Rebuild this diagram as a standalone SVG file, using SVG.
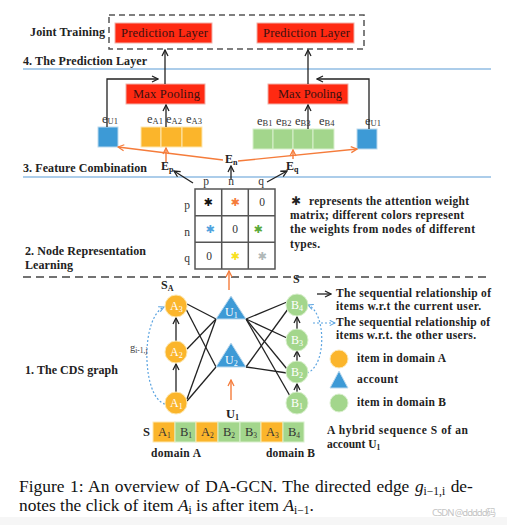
<svg xmlns="http://www.w3.org/2000/svg" width="507" height="525" viewBox="0 0 507 525">
<style>
text{font-family:"Liberation Serif","Times New Roman",serif;fill:#222}
.h{font-weight:bold;font-size:12px}
.lg{font-weight:bold;font-size:11.5px}
.bx{font-size:12.5px;fill:#3a1010}
.lab{font-size:12.5px;fill:#333}
.nd{font-size:12px;fill:#fff}
.cell{font-size:11.5px;fill:#333;text-anchor:middle}
.star{font-family:"DejaVu Sans",sans-serif;font-size:11px;text-anchor:middle}
.blk{stroke:#222;stroke-width:1.3;fill:none}
.org{stroke:#f57c3b;stroke-width:1.4;fill:none}
.dot{stroke:#5aa3e0;stroke-width:1.2;fill:none;stroke-dasharray:2,2}
.blue{stroke:#5b9bd5;stroke-width:1.2}
.red{fill:#ff2a12;stroke:#f2b0a8;stroke-width:1}
.oA{fill:#fbb52b;stroke:#fde7b0;stroke-width:1}
.gB{fill:#a3d68c;stroke:#d8efcc;stroke-width:1}
.bU{fill:#3d9ad6;stroke:#bcd9ee;stroke-width:1}
.cap{font-size:17.4px;fill:#111}
</style>
<defs>
<marker id="ab" viewBox="0 0 8 8" refX="7" refY="4" markerWidth="8" markerHeight="8" markerUnits="userSpaceOnUse" orient="auto"><path d="M1,1 L7,4 L1,7" fill="none" stroke="#222" stroke-width="1.3"/></marker>
<marker id="ao" viewBox="0 0 8 8" refX="7" refY="4" markerWidth="8" markerHeight="8" markerUnits="userSpaceOnUse" orient="auto"><path d="M1,1 L7,4 L1,7" fill="none" stroke="#f57c3b" stroke-width="1.3"/></marker>
<marker id="ad" viewBox="0 0 8 8" refX="7" refY="4" markerWidth="7" markerHeight="7" markerUnits="userSpaceOnUse" orient="auto"><path d="M1,1 L7,4 L1,7" fill="none" stroke="#5aa3e0" stroke-width="1.2"/></marker>
</defs>
<rect width="507" height="525" fill="#fff"/>
<rect x="0" y="517" width="507" height="8" fill="#f6f6f6"/>

<g id="separators">
<line class="blue" x1="23" y1="69" x2="491" y2="69"/>
<line class="blue" x1="23" y1="177" x2="491" y2="177"/>
<line x1="23" y1="277" x2="491" y2="277" stroke="#444" stroke-width="1.5" stroke-dasharray="8,5"/>
</g>

<g id="section-labels">
<text class="h" x="30" y="36" textLength="75">Joint Training</text>
<text class="h" x="23" y="65" textLength="124">4. The Prediction Layer</text>
<text class="h" x="23" y="172" textLength="124">3. Feature Combination</text>
<text class="h" x="25" y="255" textLength="121">2. Node Representation</text>
<text class="h" x="25" y="269" textLength="48">Learning</text>
<text class="h" x="25" y="374" textLength="93">1. The CDS graph</text>
</g>

<g id="joint-training">
<rect x="109" y="15" width="255" height="34" fill="none" stroke="#555" stroke-width="1.5" stroke-dasharray="6,4"/>
</g>
<g id="pred-left">
<rect class="red" x="115" y="23" width="97" height="20"/>
<text class="bx" x="121" y="37" textLength="87">Prediction   Layer</text>
</g>
<g id="pred-right">
<rect class="red" x="257" y="23" width="97" height="20"/>
<text class="bx" x="263" y="37" textLength="87">Prediction   Layer</text>
</g>

<g id="maxpool-left">
<rect class="red" x="126" y="84" width="79" height="20"/>
<text class="bx" x="133" y="98" textLength="67">Max  Pooling</text>
</g>
<g id="maxpool-right">
<rect class="red" x="268" y="84" width="80" height="20"/>
<text class="bx" x="278" y="98" textLength="64">Max Pooling</text>
</g>

<g id="eU1-left">
<rect class="bU" x="98" y="127" width="20" height="20"/>
<text class="lab" x="102" y="123">e<tspan font-size="8.5" dy="1">U1</tspan></text>
</g>
<g id="eA">
<rect class="oA" x="141" y="127" width="20" height="20"/>
<rect class="oA" x="161" y="127" width="21" height="20"/>
<rect class="oA" x="182" y="127" width="20" height="20"/>
<text class="lab" x="147" y="123">e<tspan font-size="8.5" dy="1">A1</tspan></text>
<text class="lab" x="166" y="123">e<tspan font-size="8.5" dy="1">A2</tspan></text>
<text class="lab" x="186" y="123">e<tspan font-size="8.5" dy="1">A3</tspan></text>
</g>
<g id="eB">
<rect class="gB" x="253" y="129" width="20" height="20"/>
<rect class="gB" x="273" y="129" width="20" height="20"/>
<rect class="gB" x="293" y="129" width="20" height="20"/>
<rect class="gB" x="313" y="129" width="21" height="20"/>
<text class="lab" x="257" y="125">e<tspan font-size="8.5" dy="1">B1</tspan></text>
<text class="lab" x="276" y="125">e<tspan font-size="8.5" dy="1">B2</tspan></text>
<text class="lab" x="295" y="125">e<tspan font-size="8.5" dy="1">B3</tspan></text>
<text class="lab" x="319" y="125">e<tspan font-size="8.5" dy="1">B4</tspan></text>
</g>
<g id="eU1-right">
<rect class="bU" x="357" y="129" width="20" height="20"/>
<text class="lab" x="365" y="125">e<tspan font-size="8.5" dy="1">U1</tspan></text>
</g>

<g id="E-labels">
<text class="h" x="161" y="170">E<tspan font-size="8" dy="2">p</tspan></text>
<text class="h" x="225" y="163">E<tspan font-size="8" dy="2">n</tspan></text>
<text class="h" x="286" y="170">E<tspan font-size="8" dy="2">q</tspan></text>
</g>

<g id="matrix">
<rect x="195" y="189" width="80" height="80" fill="#fff" stroke="#555" stroke-width="1.5"/>
<path d="M221.7,189V269M248.3,189V269M195,215.7H275M195,242.3H275" stroke="#555" stroke-width="1.5"/>
<text class="cell" x="206" y="185">p</text>
<text class="cell" x="231" y="185">n</text>
<text class="cell" x="261" y="185">q</text>
<text class="cell" x="187" y="209">p</text>
<text class="cell" x="187" y="236">n</text>
<text class="cell" x="187" y="262">q</text>
<text class="star" x="208" y="206" style="fill:#111">✱</text>
<text class="star" x="235" y="206" style="fill:#f57c3b">✱</text>
<text class="cell" x="262" y="206">0</text>
<text class="star" x="210" y="233" style="fill:#4fa3de">✱</text>
<text class="cell" x="235" y="233">0</text>
<text class="star" x="258" y="233" style="fill:#5aaa3a">✱</text>
<text class="cell" x="209" y="260">0</text>
<text class="star" x="235" y="260" style="fill:#f8e020">✱</text>
<text class="star" x="262" y="260" style="fill:#b0b8b8">✱</text>
</g>

<g id="matrix-note">
<text class="star" x="296" y="205" style="fill:#222;font-size:12px">✱</text>
<text class="lg" x="309" y="205" textLength="160">represents the attention weight</text>
<text class="lg" x="290" y="219" textLength="174">matrix; different colors represent</text>
<text class="lg" x="290" y="233" textLength="185">the weights from  nodes of different</text>
<text class="lg" x="290" y="248" textLength="30">types.</text>
</g>

<g id="label-SA"><text class="h" x="161" y="289">S<tspan font-size="8" dy="2">A</tspan></text></g>
<g id="label-S"><text class="h" x="293" y="283">S</text></g>

<g id="connectors">
<line class="blk" x1="165" y1="84" x2="165" y2="50" marker-end="url(#ab)"/>
<line class="blk" x1="308" y1="84" x2="308" y2="50" marker-end="url(#ab)"/>
<polyline class="blk" points="107,127 107,79 158,79" marker-end="url(#ab)"/>
<polyline class="blk" points="369,129 369,79 317,79" marker-end="url(#ab)"/>
<line class="blk" x1="166" y1="127" x2="166" y2="105" marker-end="url(#ab)"/>
<line class="blk" x1="308" y1="129" x2="308" y2="105" marker-end="url(#ab)"/>
<line class="org" x1="223" y1="160" x2="118" y2="147" marker-end="url(#ao)"/>
<line class="org" x1="238" y1="161" x2="357" y2="149" marker-end="url(#ao)"/>
<line class="org" x1="166" y1="162" x2="166" y2="148" marker-end="url(#ao)"/>
<line class="org" x1="293" y1="159" x2="293" y2="150" marker-end="url(#ao)"/>
<line class="blk" x1="193" y1="183" x2="174" y2="171" marker-end="url(#ab)"/>
<line class="blk" x1="231" y1="179" x2="231" y2="166" marker-end="url(#ab)"/>
<line class="blk" x1="267" y1="182" x2="287" y2="171" marker-end="url(#ab)"/>
<line class="org" x1="229" y1="290" x2="229" y2="271" marker-end="url(#ao)"/>
<line class="org" x1="231" y1="400" x2="231" y2="380" marker-end="url(#ao)"/>
<line class="blk" x1="176" y1="392" x2="176" y2="364" marker-end="url(#ab)"/>
<line class="blk" x1="176" y1="341" x2="176" y2="318" marker-end="url(#ab)"/>
<line class="blk" x1="297" y1="392" x2="297" y2="384" marker-end="url(#ab)"/>
<line class="blk" x1="297" y1="361" x2="297" y2="351" marker-end="url(#ab)"/>
<line class="blk" x1="297" y1="329" x2="297" y2="317" marker-end="url(#ab)"/>
<line class="blk" x1="187" y1="304" x2="216" y2="319"/>
<line class="blk" x1="186" y1="309" x2="216" y2="367"/>
<line class="blk" x1="187" y1="349" x2="216" y2="319"/>
<line class="blk" x1="187" y1="399" x2="216" y2="319"/>
<line class="blk" x1="187" y1="401" x2="216" y2="367"/>
<line class="blk" x1="246" y1="319" x2="287" y2="302"/>
<line class="blk" x1="246" y1="319" x2="287" y2="338"/>
<line class="blk" x1="246" y1="319" x2="287" y2="369"/>
<line class="blk" x1="246" y1="319" x2="290" y2="396"/>
<line class="blk" x1="246" y1="367" x2="287" y2="373"/>
<line class="blk" x1="246" y1="367" x2="288" y2="309"/>
<path class="dot" d="M165,404 C142,398 140,318 164,307" marker-end="url(#ad)"/>
<path class="dot" d="M307,373 C327,366 326,312 308,305" marker-end="url(#ad)"/>
<line class="blk" x1="317" y1="294" x2="331" y2="294" marker-end="url(#ab)"/>
<line class="dot" x1="313" y1="323" x2="335" y2="323" marker-end="url(#ad)"/>
</g>

<g id="node-A3"><circle class="oA" cx="176" cy="306" r="11"/><text class="nd" x="170" y="310">A<tspan font-size="8" dy="2">3</tspan></text></g>
<g id="node-A2"><circle class="oA" cx="176" cy="352" r="11"/><text class="nd" x="170" y="356">A<tspan font-size="8" dy="2">2</tspan></text></g>
<g id="node-A1"><circle class="oA" cx="176" cy="403" r="11"/><text class="nd" x="170" y="407">A<tspan font-size="8" dy="2">1</tspan></text></g>
<g id="node-U1"><polygon class="bU" points="231,296 216,319 246,319"/><text class="nd" x="225" y="316">U<tspan font-size="8" dy="2">1</tspan></text></g>
<g id="node-U2"><polygon class="bU" points="231,343 216,367 246,367"/><text class="nd" x="225" y="364">U<tspan font-size="8" dy="2">2</tspan></text></g>
<g id="node-B4"><circle class="gB" cx="297" cy="305" r="11"/><text class="nd" x="291" y="309">B<tspan font-size="8" dy="2">4</tspan></text></g>
<g id="node-B3"><circle class="gB" cx="297" cy="340" r="11"/><text class="nd" x="291" y="344">B<tspan font-size="8" dy="2">3</tspan></text></g>
<g id="node-B2"><circle class="gB" cx="297" cy="372" r="11"/><text class="nd" x="291" y="376">B<tspan font-size="8" dy="2">2</tspan></text></g>
<g id="node-B1"><circle class="gB" cx="297" cy="403" r="11"/><text class="nd" x="291" y="407">B<tspan font-size="8" dy="2">1</tspan></text></g>

<g id="label-g"><text x="130" y="351" style="font-size:10.5px;fill:#444">g<tspan font-size="7.5" dy="2">i-1,j</tspan></text></g>
<g id="label-U1"><text class="h" x="226" y="418" style="font-size:12.5px">U<tspan font-size="8" dy="2">1</tspan></text></g>

<g id="legend">
<text class="lg" x="336" y="297" textLength="155">The sequential relationship of</text>
<text class="lg" x="336" y="310" textLength="145">items w.r.t the current user.</text>
<text class="lg" x="336" y="326" textLength="154">The sequential relationship of</text>
<text class="lg" x="336" y="339" textLength="140">items w.r.t. the other users.</text>
<circle class="oA" cx="339" cy="359" r="9"/>
<text class="lg" x="357" y="362" textLength="89">item in domain A</text>
<polygon class="bU" points="339,371 330,388 348,388"/>
<text class="lg" x="357" y="383" textLength="41">account</text>
<circle class="gB" cx="339" cy="403" r="9"/>
<text class="lg" x="357" y="406" textLength="89">item in domain B</text>
<text class="lg" x="327" y="434" textLength="141">A  hybrid sequence S of  an</text>
<text class="lg" x="327" y="448">account U<tspan font-size="7.5" dy="2">1</tspan></text>
</g>

<g id="sequence">
<text class="h" x="143" y="436" style="font-size:12.5px">S</text>
<rect class="oA" x="153" y="422" width="22" height="20"/>
<rect class="gB" x="175" y="422" width="21" height="20"/>
<rect class="oA" x="196" y="422" width="22" height="20"/>
<rect class="gB" x="218" y="422" width="22" height="20"/>
<rect class="gB" x="240" y="422" width="21" height="20"/>
<rect class="oA" x="261" y="422" width="22" height="20"/>
<rect class="gB" x="283" y="422" width="21" height="20"/>
<text class="lab" x="158" y="436">A<tspan font-size="7.5" dy="2">1</tspan></text>
<text class="lab" x="180" y="436">B<tspan font-size="7.5" dy="2">1</tspan></text>
<text class="lab" x="201" y="436">A<tspan font-size="7.5" dy="2">2</tspan></text>
<text class="lab" x="223" y="436">B<tspan font-size="7.5" dy="2">2</tspan></text>
<text class="lab" x="245" y="436">B<tspan font-size="7.5" dy="2">3</tspan></text>
<text class="lab" x="266" y="436">A<tspan font-size="7.5" dy="2">3</tspan></text>
<text class="lab" x="288" y="436">B<tspan font-size="7.5" dy="2">4</tspan></text>
<text class="lg" x="151" y="457" textLength="50">domain A</text>
<text class="lg" x="266" y="457" textLength="49">domain B</text>
</g>

<g id="caption">
<text class="cap" x="19" y="492" style="word-spacing:1.2px">Figure 1:  An overview of DA-GCN.  The directed edge <tspan font-style="italic">g</tspan><tspan font-size="11.5" dy="3">i−1,i</tspan><tspan dy="-3"> de-</tspan></text>
<text class="cap" x="19" y="511">notes the click of item <tspan font-style="italic">A</tspan><tspan font-size="11.5" dy="3">i</tspan><tspan dy="-3"> is after item </tspan><tspan font-style="italic">A</tspan><tspan font-size="11.5" dy="3">i−1</tspan><tspan dy="-3">.</tspan></text>
<text x="432" y="516" textLength="64" style="font-family:'Noto Sans','Noto Sans CJK SC',sans-serif;font-size:9.5px;fill:#c4c4c4">CSDN @ddddd码</text>
</g>
</svg>
